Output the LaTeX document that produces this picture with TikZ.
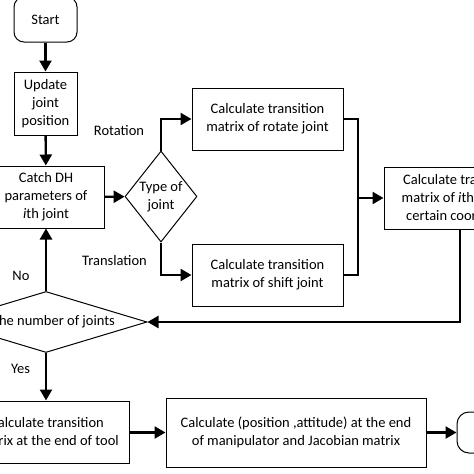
\documentclass[tikz,border=0pt]{standalone}
\usepackage{fontspec}
\setmainfont{Carlito}
\usetikzlibrary{shapes.geometric,arrows.meta}

\tikzset{
  box/.style={draw, line width=1pt, align=center, inner sep=0pt},
  decide/.style={draw, diamond, line width=1pt, align=center, inner sep=0pt},
  flow/.style={line width=2.4pt, -{Triangle[length=11pt,width=12pt]}},
  link/.style={line width=2.4pt},
}

\begin{document}
\begin{tikzpicture}[x=1pt,y=-1pt,font=\fontsize{14.5}{18}\selectfont]
    \useasboundingbox (0,0) rectangle (474,474);
    \clip (0,0) rectangle (474,474);
    % left column
    \node[box, rounded corners=10pt, minimum width=63pt, minimum height=45pt] (start) at (45.5,19.5) {Start};
    \node[box, minimum width=63pt, minimum height=63pt] (update) at (45.5,103.5) {Update\\joint\\position};
    \node[box, minimum width=116pt, minimum height=62pt] (catch) at (46,197) {Catch DH\\parameters of\\\textit{i}th joint};
    \node[decide, aspect=0.79, minimum width=72pt, minimum height=91pt] (type) at (161,196.5) {Type of\\joint};
    % joint types
    \node[box, minimum width=151pt, minimum height=62pt] (rotate) at (267.5,119) {Calculate transition\\matrix of rotate joint};
    \node[box, minimum width=151pt, minimum height=62pt] (shift) at (267.5,275) {Calculate transition\\matrix of shift joint};
    \node[box, minimum width=152pt, minimum height=62pt] (certain) at (460,198) {Calculate transition\\matrix of \textit{i}th joint in\\certain coordinate};
    \node[decide, aspect=3.3, minimum width=202pt, minimum height=61pt] (number) at (46,322) {\textit{i} > the number of joints};
    % bottom row
    \node[box, minimum width=164pt, minimum height=62pt] (tool) at (47,432) {Calculate transition\\matrix at the end of tool};
    \node[box, minimum width=260pt, minimum height=69pt] (jacob) at (296,432.5) {Calculate (position ,attitude) at the end\\of manipulator and Jacobian matrix};
    \node[box, rounded corners=12pt, minimum width=63pt, minimum height=41pt] (end) at (488.5,432.5) {End};
    % labels
    \node (rot) at (119,131) {Rotation};
    \node (trans) at (114.5,261) {Translation};
    \node (no) at (21,276) {No};
    \node (yes) at (20.5,369) {Yes};
    % connectors
    \coordinate (merge) at (358,198);
    \draw[flow] (start) -- (update);
    \draw[flow] (update) -- (catch);
    \draw[flow] (catch) -- (type);
    \draw[flow] (type.north) |- (rotate.west);
    \draw[flow] (type.south) |- (shift.west);
    \draw[link] (rotate.east) -| (merge) |- (shift.east);
    \draw[flow] (merge) -- (certain.west);
    \draw[flow] (certain.south) |- (number.east);
    \draw[flow] (number.north) -- (catch.south);
    \draw[flow] (number.south) -- (tool.north -| number.south);
    \draw[flow] (tool.east |- jacob.west) -- (jacob.west);
    \draw[flow] (jacob) -- (end);
\end{tikzpicture}
\end{document}
